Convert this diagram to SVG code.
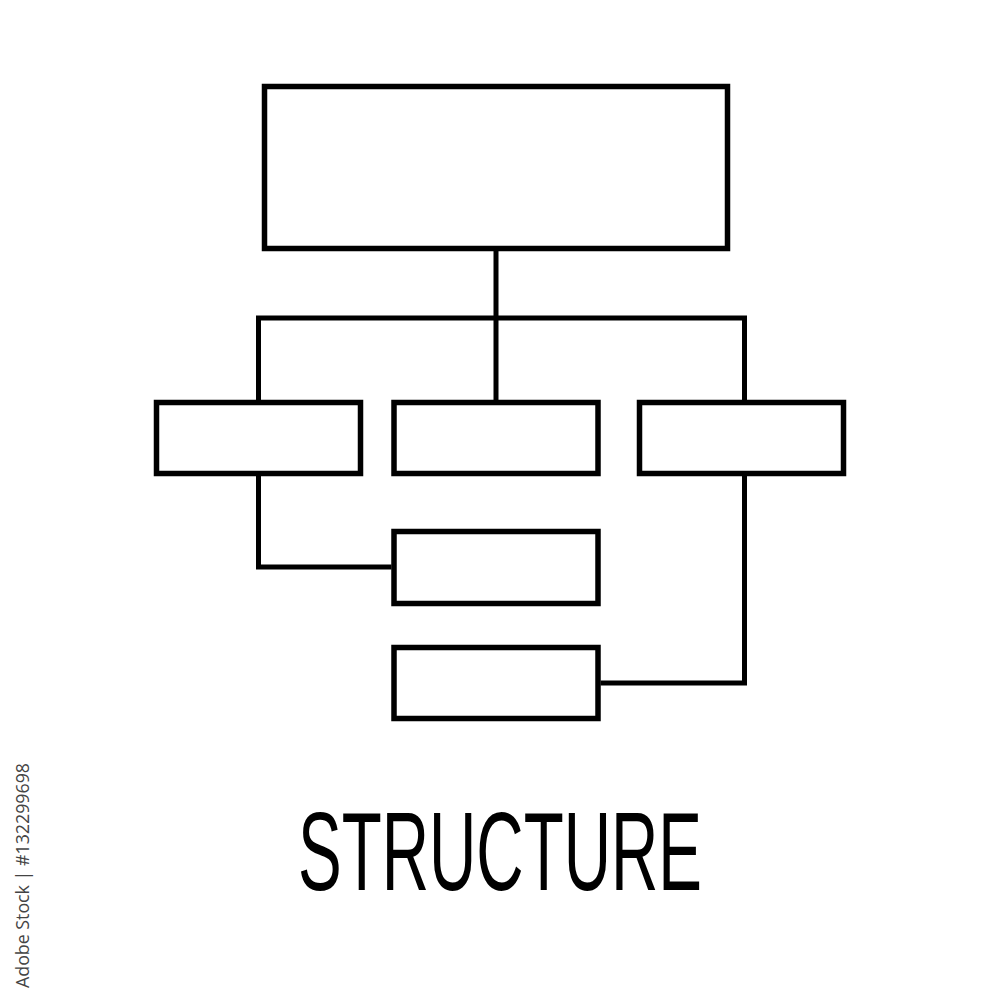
<svg xmlns="http://www.w3.org/2000/svg" width="1000" height="1000" viewBox="0 0 1000 1000">
  <style>
    .box { fill: #fff; stroke: #000; stroke-width: 5.5; }
    .conn { fill: none; stroke: #000; stroke-width: 5; stroke-linejoin: miter; }
    .title { font-family: "Liberation Sans Narrow", "Liberation Sans", sans-serif; font-size: 112px; fill: #000; }
    .credit { font-family: "Open Sans", "Liberation Sans", sans-serif; font-size: 18px; fill: #444; }
  </style>
  <rect width="1000" height="1000" fill="#fff"/>
  <g id="connectors">
    <path class="conn" d="M496 251 V400"/>
    <path class="conn" d="M258.5 400 V318 H744.5 V400"/>
    <path class="conn" d="M258.5 476 V567 H391.5"/>
    <path class="conn" d="M744.5 476 V683 H600.5"/>
  </g>
  <g id="root"><rect class="box" x="264.5" y="86.5" width="463" height="162"/></g>
  <g id="child-left"><rect class="box" x="156.5" y="402.5" width="204" height="71"/></g>
  <g id="child-mid"><rect class="box" x="394" y="402.5" width="204" height="71"/></g>
  <g id="child-right"><rect class="box" x="639.5" y="402.5" width="204" height="71"/></g>
  <g id="sub-1"><rect class="box" x="394" y="531.5" width="204" height="72"/></g>
  <g id="sub-2"><rect class="box" x="394" y="647.5" width="204" height="71"/></g>
  <text class="title" x="298" y="890" textLength="404" lengthAdjust="spacingAndGlyphs">STRUCTURE</text>
  <text class="credit" transform="translate(29 988) rotate(-90)" textLength="225" lengthAdjust="spacingAndGlyphs">Adobe Stock | #132299698</text>
</svg>
